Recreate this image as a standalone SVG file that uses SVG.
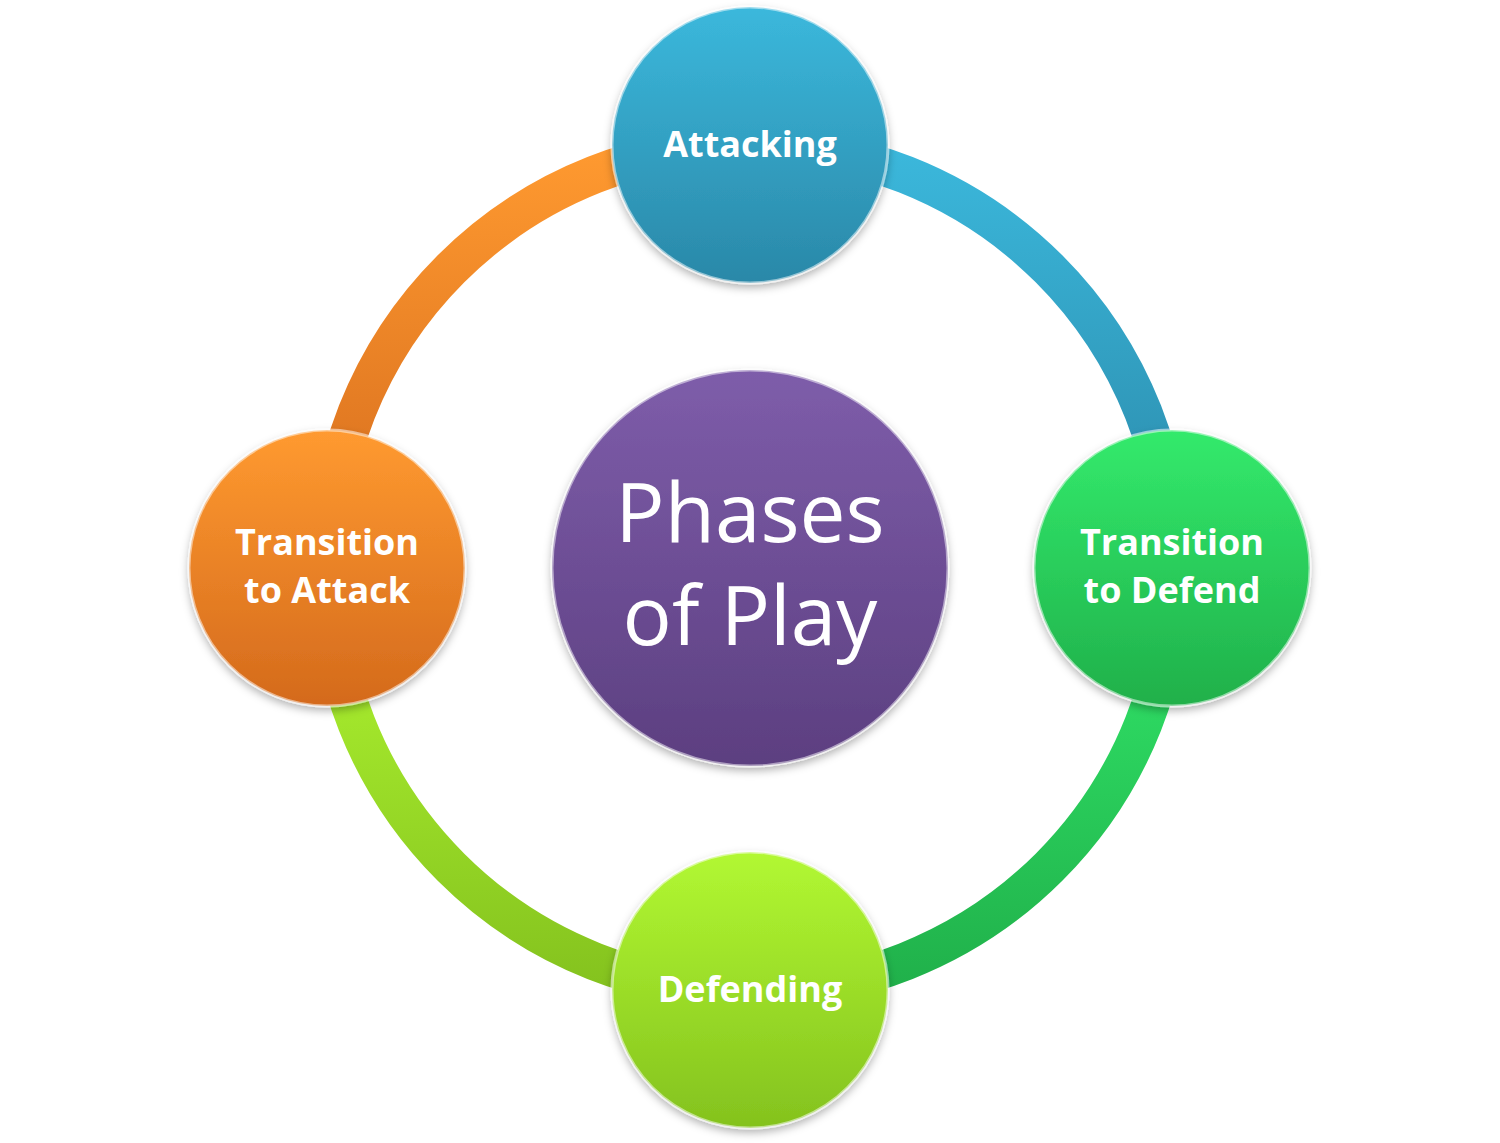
<svg xmlns="http://www.w3.org/2000/svg" width="1500" height="1143" viewBox="0 0 1500 1143">
<defs>
<linearGradient id="gb" x1="0" y1="0" x2="0" y2="1"><stop offset="0" stop-color="#3bb8dc"/><stop offset="1" stop-color="#2a88a8"/></linearGradient>
<linearGradient id="gg" x1="0" y1="0" x2="0" y2="1"><stop offset="0" stop-color="#33ea6c"/><stop offset="1" stop-color="#20b04a"/></linearGradient>
<linearGradient id="gl" x1="0" y1="0" x2="0" y2="1"><stop offset="0" stop-color="#b2f832"/><stop offset="1" stop-color="#84c21e"/></linearGradient>
<linearGradient id="go" x1="0" y1="0" x2="0" y2="1"><stop offset="0" stop-color="#ff9a30"/><stop offset="1" stop-color="#d46a1c"/></linearGradient>
<linearGradient id="gp" x1="0" y1="0" x2="0" y2="1"><stop offset="0" stop-color="#7e5daa"/><stop offset="1" stop-color="#5c3f80"/></linearGradient>
<filter id="sh" x="-20%" y="-20%" width="140%" height="140%"><feDropShadow dx="0" dy="4" stdDeviation="4" flood-color="#000" flood-opacity="0.3"/></filter>
</defs>
<style>
.ring{fill:none;stroke-width:38}
.node{stroke:#fff;stroke-opacity:0.5;stroke-width:3;filter:url(#sh)}
.lbl{font-family:"Open Sans","Noto Sans",sans-serif;font-weight:bold;font-size:36px;fill:#fff;text-anchor:middle}
.ctr{font-family:"Open Sans","Noto Sans",sans-serif;font-size:82px;fill:#fff;text-anchor:middle}
</style>
<g id="connectors">
<path class="ring" stroke="url(#gb)" d="M750,145 A423,423 0 0 1 1173,568"/>
<path class="ring" stroke="url(#gg)" d="M1173,568 A423,423 0 0 1 750,991"/>
<path class="ring" stroke="url(#gl)" d="M750,991 A423,423 0 0 1 327,568"/>
<path class="ring" stroke="url(#go)" d="M327,568 A423,423 0 0 1 750,145"/>
</g>
<g id="center"><circle class="node" cx="750" cy="568" r="198" fill="url(#gp)"/>
<text class="ctr" x="750" y="542">Phases</text><text class="ctr" x="750" y="645">of Play</text></g>
<g id="attacking"><circle class="node" cx="750" cy="145" r="138" fill="url(#gb)"/><text class="lbl" x="750" y="157">Attacking</text></g>
<g id="to-defend"><circle class="node" cx="1172" cy="568" r="138" fill="url(#gg)"/><text class="lbl" x="1172" y="555">Transition</text><text class="lbl" x="1172" y="603">to Defend</text></g>
<g id="defending"><circle class="node" cx="750" cy="990" r="138" fill="url(#gl)"/><text class="lbl" x="750" y="1002">Defending</text></g>
<g id="to-attack"><circle class="node" cx="327" cy="568" r="138" fill="url(#go)"/><text class="lbl" x="327" y="555">Transition</text><text class="lbl" x="327" y="603">to Attack</text></g>
</svg>
